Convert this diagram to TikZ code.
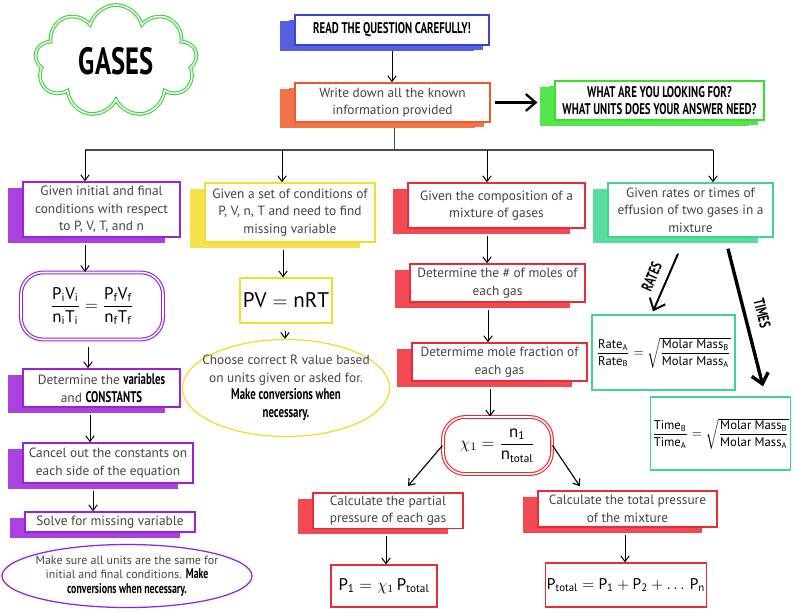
\documentclass[tikz,border=0pt]{standalone}
\usepackage{amsmath}
\usepackage{fontspec}
\setmainfont{PT Sans}
\newfontfamily\headfont[FakeStretch=0.7]{PT Sans}
\usepackage{tikz}
\usetikzlibrary{positioning,arrows.meta,shapes.geometric,shapes.misc,shapes.symbols,shadows,calc}
\definecolor{qblue}{HTML}{3A43D9}
\definecolor{qorange}{HTML}{F05A28}
\definecolor{qlime}{HTML}{36E02C}
\definecolor{qpurple}{HTML}{9B22D8}
\definecolor{qyellow}{HTML}{F3DC2C}
\definecolor{qred}{HTML}{EE2A35}
\definecolor{qteal}{HTML}{3DD68C}
\definecolor{qcloud}{HTML}{3CD63C}
\definecolor{txt}{HTML}{444444}
\newcommand{\bodytext}{\fontsize{9.5}{12.5}\selectfont\color{txt}}
\newcommand{\headtext}{\fontsize{11}{12.5}\selectfont\headfont\bfseries\color{black}}

\tikzset{
  slab/.style={draw=#1, line width=1.1pt, fill=white, font=\bodytext, align=center, inner sep=2pt,
    drop shadow={shadow xshift=-0.38cm, shadow yshift=-0.15cm, fill=#1!85, opacity=1}},
  thinslab/.style={slab=#1, drop shadow={shadow xshift=-0.15cm, shadow yshift=-0.12cm, fill=#1!85, opacity=1}},
  flat/.style={draw=#1, line width=0.9pt, fill=white, align=center, inner sep=1pt},
  blob/.style={draw=#1, line width=0.8pt, double, double distance=1.1pt, rounded corners=0.55cm, align=center},
  bubble/.style={ellipse, draw=#1, line width=0.9pt, align=center, inner xsep=-12pt, inner ysep=-4pt},
  arr/.style={-{Straight Barb[length=4pt,width=6pt]}, line width=0.7pt},
  heavy/.style={-{Straight Barb[length=7pt,width=12pt]}, line width=#1},
  heavy/.default=1.6pt,
  bus/.style={line width=0.8pt, draw=black!70}
}

\begin{document}
\begin{tikzpicture}[x=0.025cm,y=-0.025cm]
\useasboundingbox (0,0) rectangle (794,613);

% title
\node[cloud, cloud puffs=9, cloud ignores aspect, draw=qcloud, line width=0.8pt, double, double distance=1pt,
  minimum width=4.05cm, minimum height=2.8cm, font=\fontsize{27}{27}\selectfont\headfont\bfseries] (title) at (116,61) {GASES};

% top of the chart
\node[thinslab=qblue, minimum width=4.85cm, minimum height=0.75cm, font=\headtext] (read) at (392,30) {READ THE QUESTION CAREFULLY!};
\node[thinslab=qorange, minimum width=4.875cm, minimum height=0.975cm] (write) at (392.5,102.5) {Write down all the known\\ information provided};
\node[thinslab=qlime, minimum width=5.225cm, minimum height=0.975cm, font=\headtext] (look) at (659.5,100.5) {WHAT ARE YOU LOOKING FOR?\\ WHAT UNITS DOES YOUR ANSWER NEED?};

% four cases
\node[slab=qpurple, minimum width=3.925cm, minimum height=1.375cm] (g1) at (101.5,209.5) {Given initial and final\\ conditions with respect\\ to P, V, T, and n};
\node[slab=qyellow, minimum width=4.25cm, minimum height=1.475cm] (g2) at (290,212.5) {Given a set of conditions of\\ P, V, n, T and need to find\\ missing variable};
\node[slab=qred, minimum width=4.425cm, minimum height=1.125cm] (g3) at (496.5,205.5) {Given the composition of a\\ mixture of gases};
\node[slab=qteal, minimum width=4.125cm, minimum height=1.35cm] (g4) at (690.5,210) {Given rates or times of\\ effusion of two gases in a\\ mixture};

% combined gas law
\node[blob=qpurple, minimum width=3.55cm, minimum height=1.675cm, font=\fontsize{12}{14}\selectfont] (eq1) at (92,306)
  {$\dfrac{\mathrm{P_iV_i}}{\mathrm{n_iT_i}}=\dfrac{\mathrm{P_fV_f}}{\mathrm{n_fT_f}}$};
\node[slab=qpurple, minimum width=3.925cm, minimum height=0.95cm] (vars) at (101.5,388) {Determine the {\headtext variables}\\ and {\headtext CONSTANTS}};
\node[slab=qpurple, minimum width=4.25cm, minimum height=1cm] (cancel) at (108,463) {Cancel out the constants on\\ each side of the equation};
\node[slab=qpurple, minimum width=4.25cm, minimum height=0.5cm] (solve) at (110,522) {Solve for missing variable};
\node[bubble=qpurple, minimum width=6.25cm, minimum height=1.575cm, font=\fontsize{8.5}{10.5}\selectfont\color{txt}] (note1) at (127,576)
  {Make sure all units are the same for\\ initial and final conditions. {\headtext\fontsize{10}{10.5}\selectfont Make}\\ {\headtext\fontsize{10}{10.5}\selectfont conversions when necessary.}};

% ideal gas law
\node[flat=qyellow, minimum width=2.3cm, minimum height=1.125cm, font=\fontsize{15}{16}\selectfont] (pv) at (286,300.5) {$\mathrm{PV}=\mathrm{nRT}$};
\node[bubble=qyellow, minimum width=5.175cm, minimum height=2.425cm, font=\bodytext] (note2) at (286,388)
  {Choose correct R value based\\ on units given or asked for.\\ {\headtext Make conversions when}\\ {\headtext necessary.}};

% mixtures
\node[slab=qred, minimum width=4.375cm, minimum height=0.95cm] (moles) at (497.5,283) {Determine the \# of moles of\\ each gas};
\node[slab=qred, minimum width=4.375cm, minimum height=0.95cm] (frac) at (499.5,362) {Determime mole fraction of\\ each gas};
\node[blob=qred, minimum width=2.725cm, minimum height=1.425cm, font=\fontsize{12}{14}\selectfont] (chi) at (497.5,445.5)
  {$\chi_1=\dfrac{\mathrm{n_1}}{\mathrm{n_{total}}}$};
\node[slab=qred, minimum width=3.75cm, minimum height=0.875cm] (partial) at (388,510.5) {Calculate the partial\\ pressure of each gas};
\node[slab=qred, minimum width=4.475cm, minimum height=0.9cm] (total) at (627.5,509) {Calculate the total pressure\\ of the mixture};
\node[flat=qred, minimum width=2.65cm, minimum height=1.05cm, font=\fontsize{12}{14}\selectfont] (p1) at (384,586) {$\mathrm{P_1}=\chi_1\,\mathrm{P_{total}}$};
\node[flat=qred, minimum width=3.7cm, minimum height=1.1cm, font=\fontsize{11}{13}\selectfont] (ptot) at (626,585) {$\mathrm{P_{total}}=\mathrm{P_1}+\mathrm{P_2}+\dots\,\mathrm{P_n}$};

% effusion
\node[flat=qteal, minimum width=3.575cm, minimum height=1.875cm, font=\fontsize{9}{11}\selectfont] (rate) at (663.5,352.5)
  {$\dfrac{\mathrm{Rate_A}}{\mathrm{Rate_B}}=\sqrt{\dfrac{\mathrm{Molar\ Mass_B}}{\mathrm{Molar\ Mass_A}}}$};
\node[flat=qteal, minimum width=3.375cm, minimum height=1.825cm, font=\fontsize{9}{11}\selectfont] (time) at (720.5,433.5)
  {$\dfrac{\mathrm{Time_B}}{\mathrm{Time_A}}=\sqrt{\dfrac{\mathrm{Molar\ Mass_B}}{\mathrm{Molar\ Mass_A}}}$};

% connectors
\draw[arr, shorten <=4pt] (read.south) -- (read.south |- write.north);
\draw[heavy, shorten <=3pt, shorten >=0.42cm] (write.east) -- (write.east -| look.west);
\coordinate (d1) at (85,150);
\coordinate (d2) at (282,150);
\coordinate (d3) at (487,150);
\coordinate (d4) at (713,150);
\draw[bus] (d1) -- (d4);
\draw[bus, shorten <=4pt] ([xshift=0.06cm]write.south) -- ([xshift=0.06cm]write.south |- d1);
\foreach \d/\g in {d1/g1, d2/g2, d3/g3, d4/g4}
  \draw[arr] (\d) -- (\d |- \g.north);
\foreach \a/\b/\dx in {g1/eq1/-7, eq1/vars/-13.5, vars/cancel/-18, cancel/solve/-17, g2/pv/-3, pv/note2/-1,
    g3/moles/-10.5, moles/frac/-11.5, frac/chi/-7.5, partial/p1/2, total/ptot/-1}
  \draw[arr, shorten <=5pt] ([xshift=\dx*0.025cm]\a.south -| \b.north) -- ([xshift=\dx*0.025cm]\b.north);
\draw[arr, line width=0.8pt] (chi.west) -- ([xshift=0.5cm, yshift=0.15cm]partial.north);
\draw[arr, line width=0.8pt] (chi.east) -- ([xshift=-1.19cm, yshift=0.1cm]total.north);
\draw[heavy=1.4pt] ($(g4.south)+(-12.5,16)$) -- node[sloped, above=6pt, inner sep=0pt, font=\headtext] {RATES} ($(rate.north)+(-10.5,-3)$);
\draw[heavy=2.4pt] ($(g4.south)+(37.5,11)$) -- node[sloped, above=7pt, inner sep=0pt, font=\headtext] {TIMES} ($(time.north)+(42.5,-10)$);
\end{tikzpicture}
\end{document}
